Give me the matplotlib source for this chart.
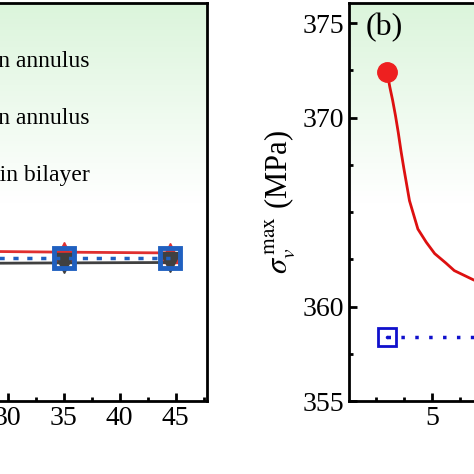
import matplotlib
matplotlib.use("Agg")
import matplotlib.pyplot as plt
import numpy as np
from matplotlib.colors import LinearSegmentedColormap

plt.rcParams['font.family'] = ['Liberation Serif', 'DejaVu Serif']
plt.rcParams['mathtext.fontset'] = 'stix'

# left panel data (only the right part is visible)
left_x = [20, 35, 44.5]
left_red = [37.8, 37.4, 37.2]
left_blue = [36.0, 36.0, 36.0]
left_black = [34.5, 34.7, 34.8]
left_legend = ["Max stress in annulus", "Min stress in annulus", "Max stress in bilayer"]

# right panel data
right_x = [3.4, 3.5, 3.6, 3.7, 3.8, 3.9, 4.0, 4.2, 4.5, 4.8, 5.1, 5.5, 5.8, 6.5, 8.0, 10.0]
right_red = [372.4, 371.6, 370.9, 370.1, 369.2, 368.2, 367.3, 365.6, 364.1, 363.4,
             362.8, 362.3, 361.9, 361.4, 360.8, 360.4]
right_blue_x = [3.4, 6.5, 10.0]
right_blue = [358.4, 358.4, 358.4]

W = 474.0
fig = plt.figure(figsize=(4.74, 4.74), dpi=100)

grad = np.linspace(0, 1, 256).reshape(-1, 1)
cmap = LinearSegmentedColormap.from_list("g", [(1, 1, 1), (1, 1, 1), (0.86, 0.96, 0.86)])


def background(ax):
    ax.imshow(grad, extent=(0, 1, 0, 1), transform=ax.transAxes, cmap=cmap,
              aspect='auto', origin='lower', zorder=0)


def style(ax):
    for s in ax.spines.values():
        s.set_linewidth(2)
    ax.tick_params(which='both', direction='in', width=2, labelsize=20)
    ax.tick_params(which='major', length=6)
    ax.tick_params(which='minor', length=3)


# left axes: right edge at 207 px, x 5 units = 56 px
x0, x1 = 5, 47.8
lw_px = (x1 - x0) * 11.2
axl = fig.add_axes([(207 - lw_px) / W, (474 - 401) / W, lw_px / W, 398 / W])
background(axl)
axl.plot(left_x, left_red, color='#e03030', lw=2, marker='^', ms=15, zorder=3)
axl.plot(left_x, left_black, color='#404040', lw=2, marker='v', ms=15, zorder=3)
axl.plot(left_x, left_blue, color='#2060c0', lw=2.5, ls=(0, (1.5, 2.5)), marker='s', ms=14,
         mfc='none', mew=3.5, zorder=4)
axl.set_xlim(x0, x1)
axl.set_ylim(0, 100)
axl.set_xticks([10, 15, 20, 25, 30, 35, 40, 45])
axl.set_xticks(np.arange(7.5, 48, 2.5), minor=True)
axl.set_yticks([])
style(axl)
for i, t in enumerate(left_legend):
    axl.text(x1 - 10.5, 85.2 - i * 14.3, t, fontsize=17, ha='right', va='center')

# right axes: left edge at 349 px
rx0, rx1 = 2.04, 12
rw_px = (rx1 - rx0) * 28
axr = fig.add_axes([349 / W, (474 - 401) / W, rw_px / W, 398 / W])
background(axr)
axr.plot(right_x, right_red, color='#dd1010', lw=2, zorder=3)
axr.plot(right_x[0], right_red[0], 'o', color='#ee2020', ms=14, zorder=4)
axr.plot(right_blue_x, right_blue, color='#1010cc', lw=2.5, ls=(0, (1, 3)), zorder=3)
axr.plot(right_blue_x[0], right_blue[0], 's', color='#1010cc', mfc='none', mew=2, ms=13, zorder=4)
axr.plot(right_blue_x[0], right_blue[0], '.', color='#1010cc', ms=3, zorder=4)
axr.set_xlim(rx0, rx1)
axr.set_ylim(355, 376.06)
axr.set_xticks([5, 10])
axr.set_xticks(np.arange(3, 12, 1), minor=True)
axr.set_yticks([355, 360, 370, 375])
axr.set_yticks([357.5, 362.5, 365, 367.5, 372.5], minor=True)
style(axr)
axr.set_ylabel(r'$\sigma_v^{\,\mathrm{max}}$ (MPa)', fontsize=22, labelpad=4)
axr.text(0.06, 0.975, '(b)', transform=axr.transAxes, fontsize=23, va='top')

fig.savefig("out.png", dpi=100)
